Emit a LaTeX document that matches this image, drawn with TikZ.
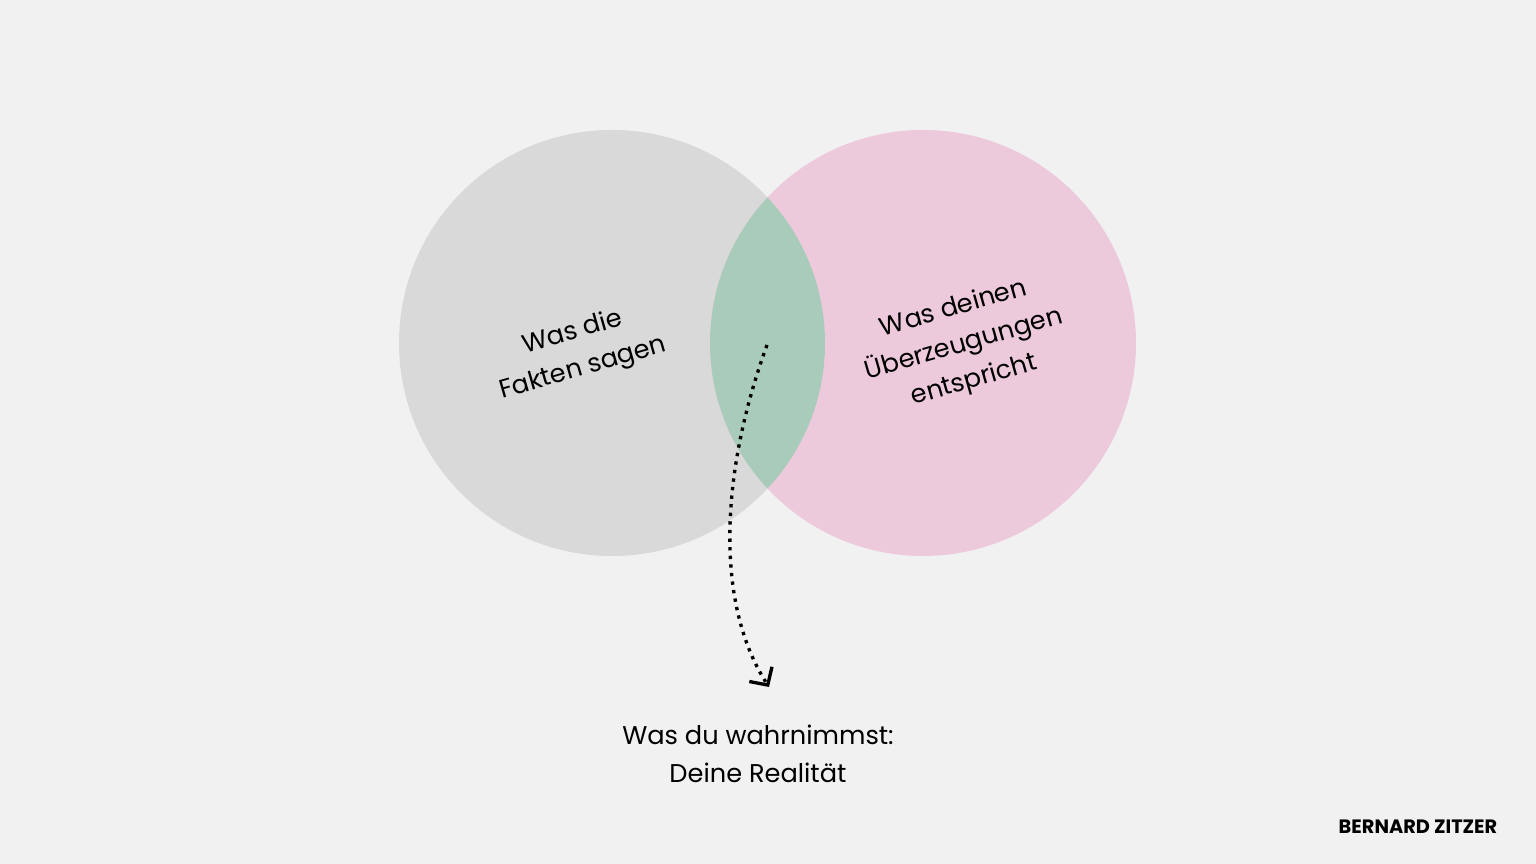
\documentclass[tikz,border=0pt]{standalone}
\usepackage{fontspec}
\setmainfont{Poppins}
\newfontfamily\signfont{Poppins Bold}
\usetikzlibrary{arrows.meta}
\definecolor{bg}{HTML}{F1F1F1}
\definecolor{faktgray}{HTML}{D9D9D9}
\definecolor{glaubpink}{HTML}{EDCADB}
\definecolor{lensgreen}{HTML}{A9CBB9}
\newcommand{\bubble}[4]{\node[circle,fill=#4,minimum size=4.26cm,inner sep=0pt] (#1) at (#2,#3) {};}
\newcommand{\venntext}[5]{\node[align=center,rotate=#4,font=\fontsize{7.3}{10.6}\selectfont] (#1) at (#2,#3) {#5};}

\begin{document}
\begin{tikzpicture}
    \fill[bg] (0,0) rectangle (15.36,8.64);
    \useasboundingbox (0,0) rectangle (15.36,8.64);
    \bubble{fakten}{6.12}{5.21}{faktgray}  \bubble{glaube}{9.23}{5.21}{glaubpink}
    \begin{scope}
        \clip (fakten.center) circle (2.13);
        \fill[lensgreen] (glaube.center) circle (2.13);
    \end{scope}
    \venntext{faktentext}{5.78}{5.13}{16}{Was die\\Fakten sagen}
    \venntext{glaubetext}{9.64}{5.19}{16}{Was deinen\\Überzeugungen\\entspricht}
    \node[align=center,font=\fontsize{7.3}{10.8}\selectfont] (real) at (7.58,1.1) {Was du wahrnimmst:\\Deine Realität};
    \coordinate (start) at (7.67,5.19); \coordinate (tip) at (7.69,1.77);
    \draw[line width=0.95pt,dash pattern=on 0.95pt off 1.5pt,-{Straight Barb[length=1.3mm,width=2.7mm]}]
        (start) .. controls (7.2,3.9) and (7.15,2.6) .. (tip);
    \node[font=\signfont\fontsize{5.5}{6}\selectfont] (sign) at (14.18,0.37) {BERNARD ZITZER};
\end{tikzpicture}
\end{document}
